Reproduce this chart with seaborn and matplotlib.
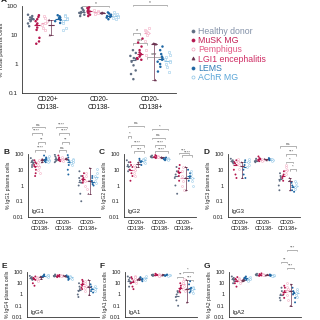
import numpy as np
import pandas as pd
import matplotlib
matplotlib.use("Agg")
import matplotlib.pyplot as plt
from matplotlib.lines import Line2D
from matplotlib.ticker import FixedLocator, NullFormatter, LogLocator
import seaborn as sns

sns.set_style("white")
plt.rcParams["font.family"] = ["Liberation Sans", "DejaVu Sans"]

GROUPS = ["Healthy donor", "MuSK MG", "Pemphigus", "LGI1 encephalitis", "LEMS", "AChR MG"]
CATS = ["CD20+\nCD138-", "CD20-\nCD138-", "CD20-\nCD138+"]
MARK_COLORS = ["#5f6d82", "#b5174e", "#f2a3bd", "#6d3552", "#1e66a3", "#8cc4e6"]
TEXT_COLORS = ["#8391a8", "#c41f55", "#e45a86", "#cf2d64", "#2f7bb6", "#5aa6d8"]
HOLLOW = [False, False, True, False, False, True]
MARKERS = ["o", "o", "o", "^", "o", "o"]

# ---- Panel A: % total plasma cells (per group: [cat0, cat1, cat2]) ----
a_hd = [[50, 45, 40, 38, 35, 32, 30, 25, 20], [85, 75, 68, 62, 58, 55, 50, 45], [3.0, 2.4, 1.9, 1.6, 1.5, 1.2, 0.9, 0.6, 0.45, 0.3]]
a_musk = [[48, 42, 35, 30, 25, 22, 18, 15, 8, 6, 5], [90, 85, 78, 70, 65, 60, 55, 50, 45], [7.5, 5.5, 4, 3, 2.5, 2.2, 2, 1.8, 1.6, 1.5, 1.4]]
a_pemph = [[45, 38, 30, 26, 22, 18, 15], [70, 65, 60, 58, 55], [18, 15, 14, 13, 12, 10, 6, 3, 2]]
a_lgi1 = [[10, 33], [56, 60], [0.28, 4.8, 5.2]]
a_lems = [[48, 44, 40, 38, 36, 33, 30, 26], [60, 55, 50, 48, 45, 42, 40, 35], [4, 3, 2.2, 1.8, 1.6, 1.4, 1.2, 1, 0.8, 0.55]]
a_achr = [[50, 45, 40, 35, 30, 25, 18, 15], [62, 55, 50, 45, 42, 38, 35], [2.5, 2, 1.7, 1.5, 1.3, 1.2, 1, 0.8, 0.55]]

# ---- Panel B: IgG1 ----
b_hd = [[55, 40, 35, 30, 25, 20, 15], [90, 70, 55, 45, 40, 35, 30], [8, 4, 3, 2, 1.5, 1, 0.3, 0.1]]
b_musk = [[40, 30, 25, 20, 15, 10, 6, 4], [80, 60, 50, 45, 40, 35], [6, 4, 3, 2.5, 2, 1.5]]
b_pemph = [[40, 30, 20, 15, 10, 6], [60, 50, 45, 40, 35], [6, 4, 2, 1, 0.6]]
b_lgi1 = [[30, 50], [45, 55], [0.3, 2, 13]]
b_lems = [[80, 60, 50, 40, 35, 30], [85, 60, 40, 30, 20, 10, 5], [4, 3, 2, 1.5, 1.2, 1]]
b_achr = [[70, 55, 45, 40, 35, 30], [50, 40, 35, 30, 25, 20], [12, 6, 4, 3, 2, 1.5]]

# ---- Panel C: IgG2 ----
c_hd = [[40, 30, 20, 15, 10, 8], [80, 70, 65, 60], [15, 8, 5, 3, 1, 0.3]]
c_musk = [[30, 20, 15, 10, 6, 4, 2], [85, 75, 65, 60, 55], [20, 12, 8, 6, 4, 2]]
c_pemph = [[20, 15, 10, 6, 4], [70, 65, 60], [15, 8, 4, 2, 1, 0.5]]
c_lgi1 = [[15, 30], [55, 65], [0.5, 3, 15]]
c_lems = [[50, 40, 35, 30, 20], [60, 55, 50, 45, 40], [10, 6, 4, 3, 2]]
c_achr = [[55, 45, 40, 30, 25], [55, 50, 45, 40], [8, 5, 3, 2, 1]]

# ---- Panel D: IgG3 ----
d_hd = [[50, 40, 35, 30, 25], [50, 40, 35, 30], [6, 4, 3, 2, 1, 0.5]]
d_musk = [[40, 30, 25, 20, 10, 5, 3], [70, 55, 50, 40, 35], [8, 5, 4, 3, 2]]
d_pemph = [[45, 35, 30, 20, 12], [45, 40, 35], [20, 15, 10, 8, 5]]
d_lgi1 = [[3, 30], [40, 50], [0.5, 2, 3]]
d_lems = [[40, 30, 20, 10, 5, 3], [55, 50, 45, 40], [1.5, 1, 0.8, 0.5, 0.4]]
d_achr = [[45, 35, 30, 20, 15], [50, 45, 40, 35], [2, 1.5, 1, 0.8, 0.6]]

# ---- Panel E: IgG4 ----
e_hd = [[45, 35, 30, 25, 20], [60, 50, 45, 40], [10, 5, 3, 2, 1, 0.6]]
e_musk = [[40, 30, 25, 20, 10, 6], [55, 50, 45, 40, 35], [20, 15, 10, 6, 4, 3]]
e_pemph = [[35, 30, 25, 20, 15], [50, 45, 40], [15, 10, 6, 4, 2]]
e_lgi1 = [[25, 40], [40, 50], [1, 5, 20]]
e_lems = [[60, 50, 45, 40], [50, 40, 35, 30, 25, 20], [8, 5, 3, 2, 1.5]]
e_achr = [[55, 50, 45, 35], [40, 35, 30, 25], [6, 4, 3, 2]]

# ---- Panel F: IgA1 ----
f_hd = [[40, 30, 20, 15, 10, 5], [60, 55, 50, 45], [2, 1.5, 1, 0.6, 0.3, 0.1]]
f_musk = [[35, 25, 15, 10, 5, 3], [70, 60, 55, 50], [10, 6, 4, 3, 2, 1.5]]
f_pemph = [[45, 35, 25, 15, 10], [65, 55, 50, 45, 40], [25, 15, 10, 6, 3, 2]]
f_lgi1 = [[20, 30], [50, 60], [0.2, 3, 20]]
f_lems = [[35, 30, 25, 20, 15], [60, 55, 50, 45], [15, 8, 4, 3, 2, 1.5]]
f_achr = [[40, 30, 25, 20], [55, 50, 45], [5, 4, 3, 2, 1.5]]

# ---- Panel G: IgA2 ----
g_hd = [[40, 30, 25, 20, 15, 10], [70, 60, 55, 50], [4, 2, 1, 0.5, 0.3]]
g_musk = [[35, 25, 20, 15, 10, 5], [75, 65, 55, 50, 45], [6, 4, 2, 1.5, 1, 0.5]]
g_pemph = [[30, 25, 20, 15, 10], [60, 55, 50], [10, 5, 3, 2, 1, 0.3]]
g_lgi1 = [[15, 25], [50, 60], [0.1, 2, 8]]
g_lems = [[40, 35, 30, 25, 20], [60, 55, 50, 45], [4, 2, 1.5, 1, 0.5, 0.2]]
g_achr = [[35, 30, 25, 20, 15], [55, 50, 45, 40], [3, 2, 1.5, 1, 0.6]]

IG_LABELS = ["IgG1", "IgG2", "IgG3", "IgG4", "IgA1", "IgA2"]


def frame(per_group):
    rows = []
    for g, cats in zip(GROUPS, per_group):
        for c, vals in zip(CATS, cats):
            for v in vals:
                rows.append((g, c, v))
    return pd.DataFrame(rows, columns=["group", "cat", "val"])


PAL = dict(zip(GROUPS, MARK_COLORS))
DODGE = 0.8 * 5 / 6


def offs(gi):
    return -0.4 + (gi + 0.5) * 0.8 / 6


def draw(ax, per_group, ymin, ms, fs):
    np.random.seed(7)
    df = frame(per_group)
    for gi, g in enumerate(GROUPS):
        sub = df[df.group == g]
        n0 = len(ax.collections)
        sns.stripplot(data=sub, x="cat", y="val", hue="group", order=CATS,
                      hue_order=GROUPS, palette=PAL, dodge=True, jitter=0.35,
                      size=ms, marker=MARKERS[gi], linewidth=0, ax=ax, legend=False)
        for c in ax.collections[n0:]:
            if HOLLOW[gi]:
                c.set_facecolor("white")
                c.set_edgecolor(MARK_COLORS[gi])
                c.set_linewidth(0.35)
    sns.pointplot(data=df, x="cat", y="val", hue="group", order=CATS,
                  hue_order=GROUPS, palette=PAL, estimator="median", errorbar=None,
                  markers="_", linestyle="none", dodge=DODGE, markersize=ms * 2.4,
                  markeredgewidth=0.8, ax=ax, legend=False)
    lg = df[df.group == "LGI1 encephalitis"]
    sns.pointplot(data=lg, x="cat", y="val", hue="group", order=CATS,
                  hue_order=GROUPS, palette=PAL, estimator="median",
                  errorbar=("pi", 100), capsize=0.08, err_kws={"linewidth": 0.5},
                  markers="_", linestyle="none", dodge=DODGE, markersize=ms * 2.0,
                  markeredgewidth=0.6, ax=ax, legend=False)
    ax.set_yscale("log")
    ax.set_ylim(ymin, 100)
    ax.set_xlim(-0.5, 2.5)
    ticks = [t for t in [0.01, 0.1, 1, 10, 100] if t >= ymin]
    ax.yaxis.set_major_locator(FixedLocator(ticks))
    ax.set_yticklabels([("%g" % t) for t in ticks])
    ax.yaxis.set_minor_locator(LogLocator(base=10, subs=np.arange(2, 10)))
    ax.yaxis.set_minor_formatter(NullFormatter())
    ax.tick_params(axis="y", which="major", length=2, width=0.5, labelsize=fs, pad=1, colors="#222222")
    ax.tick_params(axis="y", which="minor", length=1.1, width=0.4, colors="#222222")
    ax.tick_params(axis="x", length=0, labelsize=fs, pad=2, colors="#111111")
    ax.set_xlabel("")
    sns.despine(ax=ax)
    for s in ("left", "bottom"):
        ax.spines[s].set_linewidth(0.6)
        ax.spines[s].set_color("#333333")


def bracket(ax, x1, x2, yf, text, fs=3.2, d=0.025):
    tr = ax.get_xaxis_transform()
    ax.plot([x1, x1, x2, x2], [yf - d, yf, yf, yf - d], color="#777777",
            lw=0.4, transform=tr, clip_on=False)
    ax.text((x1 + x2) / 2, yf + 0.003, text, transform=tr, ha="center", va="bottom",
            fontsize=fs, color="#555555", clip_on=False)


W, H = 320, 320
fig = plt.figure(figsize=(3.2, 3.2), dpi=100)


def box(l, t, w, h):
    return [l / W, 1 - (t + h) / H, w / W, h / H]


# Panel A
axA = fig.add_axes(box(22, 6, 154, 87))
draw(axA, [a_hd, a_musk, a_pemph, a_lgi1, a_lems, a_achr], 0.1, 1.8, 4.6)
axA.set_ylim(0.1, 100)
axA.set_ylabel("% Total plasma cells", fontsize=4.3, labelpad=2)
for lab in axA.get_xticklabels():
    lab.set_linespacing(1.25)
    lab.set_fontsize(4.8)
bracket(axA, offs(0) + 1, offs(4) + 1, 1.0, "*", fs=3.6, d=0.015)
bracket(axA, offs(0) + 2, offs(5) + 2, 1.012, "*", fs=3.6, d=0.015)
bracket(axA, offs(0) + 2, offs(1) + 2, 0.69, "*", fs=4)
bracket(axA, offs(0) + 2, offs(2) + 2, 0.575, "***", fs=4)
bracket(axA, offs(2) + 2, offs(4) + 2, 0.414, "***", fs=4)
fig.text(0.004, 0.998, "A", fontsize=6, fontweight="bold", va="center", ha="left")

# Legend
handles = []
for gi, g in enumerate(GROUPS):
    handles.append(Line2D([], [], ls="", marker=MARKERS[gi], markersize=2.2,
                          markerfacecolor="white" if HOLLOW[gi] else MARK_COLORS[gi],
                          markeredgecolor=MARK_COLORS[gi], markeredgewidth=0.5))
leg = fig.legend(handles, GROUPS, loc="upper left", bbox_to_anchor=(190 / W, 1 - 27 / H),
                 frameon=False, fontsize=6.3, handlelength=0.6, handletextpad=0.3,
                 labelspacing=0.02, borderaxespad=0, borderpad=0,
                 labelcolor=TEXT_COLORS)

panels = [
    ("B", [b_hd, b_musk, b_pemph, b_lgi1, b_lems, b_achr], 28, 154, 63),
    ("C", [c_hd, c_musk, c_pemph, c_lgi1, c_lems, c_achr], 124, 154, 63),
    ("D", [d_hd, d_musk, d_pemph, d_lgi1, d_lems, d_achr], 228, 154, 63),
    ("E", [e_hd, e_musk, e_pemph, e_lgi1, e_lems, e_achr], 27, 272, 45),
    ("F", [f_hd, f_musk, f_pemph, f_lgi1, f_lems, f_achr], 125, 272, 45),
    ("G", [g_hd, g_musk, g_pemph, g_lgi1, g_lems, g_achr], 229, 272, 45),
]
axes = {}
for i, (letter, data, left, top, h) in enumerate(panels):
    ax = fig.add_axes(box(left, top, 72, h))
    draw(ax, data, 0.01, 1.4, 4.0)
    ax.set_ylim(0.01, 100)
    ax.set_ylabel("%% %s plasma cells" % IG_LABELS[i], fontsize=3.7, labelpad=1.5)
    for lab in ax.get_xticklabels():
        lab.set_linespacing(1.2)
        lab.set_fontsize(4.0)
    if i >= 3:
        ax.tick_params(axis="x", labelbottom=False)
    ax.text(0.05, 0.04, IG_LABELS[i], transform=ax.transAxes, fontsize=4.3,
            ha="left", va="bottom", color="#222222")
    ly = top - 1 if i < 3 else top - 5
    fig.text((left - 25) / W, 1 - ly / H, letter, fontsize=6,
             fontweight="bold", ha="left", va="center")
    axes[letter] = ax

ax = axes["B"]
bracket(ax, offs(0), offs(4), 1.43, "ns")
bracket(ax, offs(0) + 1, offs(5) + 1 - 0.2, 1.43, "****")
bracket(ax, offs(0), offs(3), 1.33, "****")
bracket(ax, offs(1) + 1, offs(4) + 1, 1.33, "****")
bracket(ax, offs(2), offs(4), 1.19, "**")
bracket(ax, offs(2) + 1, offs(4) + 1, 1.19, "**")
bracket(ax, offs(1), offs(4), 1.06, "****")
bracket(ax, offs(1) + 1, offs(3) + 1, 1.06, "ns")
ax = axes["C"]
bracket(ax, offs(0), offs(5), 1.45, "ns")
bracket(ax, offs(0) + 1, offs(5) + 1, 1.4, "*")
bracket(ax, offs(0), offs(1), 1.28, "*")
bracket(ax, offs(0) + 1, offs(4) + 1, 1.26, "ns")
bracket(ax, offs(1), offs(5), 1.14, "****")
bracket(ax, offs(1) + 1, offs(4) + 1, 1.14, "****")
bracket(ax, offs(2), offs(5), 1.04, "***")
bracket(ax, offs(1) + 1, offs(5) + 1, 1.04, "****")
bracket(ax, offs(1) + 2, offs(4) + 2, 1.02, "***")
bracket(ax, offs(2) + 2, offs(5) + 2, 0.98, "****")
ax = axes["D"]
bracket(ax, offs(0) + 2, offs(5) + 2, 1.12, "ns")
bracket(ax, offs(2) + 2, offs(5) + 2, 1.0, "***")
bracket(ax, offs(2) + 2, offs(4) + 2, 0.88, "*")
bracket(ax, offs(3) + 2, offs(5) + 2, 0.76, "*")
ax = axes["F"]
bracket(ax, offs(2) + 2, offs(5) + 2, 1.0, "*")
bracket(ax, offs(0) + 2, offs(2) + 2, 0.9, "**")
bracket(ax, offs(3) + 2, offs(5) + 2, 0.82, "***")
ax = axes["G"]
bracket(ax, offs(2) + 2, offs(5) + 2, 1.5, "***")
bracket(ax, offs(0) + 2, offs(2) + 2, 1.22, "**")
bracket(ax, offs(2) + 2, offs(4) + 2, 1.1, "***")

fig.savefig("out.png", dpi=100)
